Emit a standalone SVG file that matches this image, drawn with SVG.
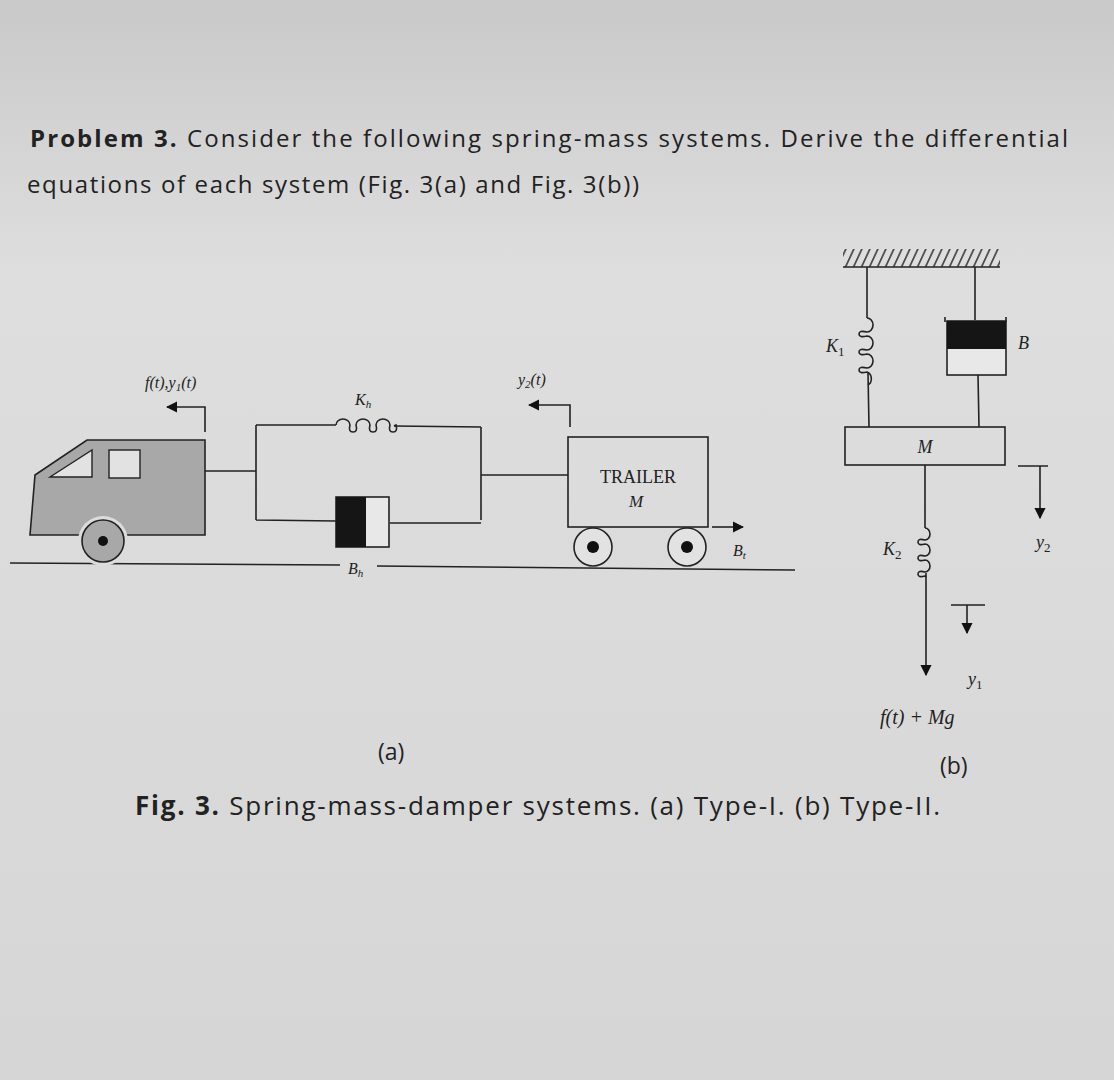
<svg xmlns="http://www.w3.org/2000/svg" width="1114" height="1080" viewBox="0 0 1114 1080">
<defs>
<linearGradient id="bg" x1="0" y1="0" x2="0" y2="1"><stop offset="0" stop-color="#c9c9c9"/><stop offset="0.25" stop-color="#dedede"/><stop offset="1" stop-color="#d6d6d6"/></linearGradient>
<pattern id="hatch" width="8" height="18" patternUnits="userSpaceOnUse" patternTransform="skewX(-25)"><line x1="2" y1="0" x2="2" y2="18" stroke="#222" stroke-width="1.5"/></pattern>
<marker id="ah" viewBox="0 0 10 10" refX="9" refY="5" markerWidth="7" markerHeight="7" orient="auto-start-reverse"><path d="M0,0 L10,5 L0,10 z" fill="#111"/></marker>
</defs>
<style>
.l{stroke:#222;stroke-width:1.6;fill:none}
.s{font-family:"Open Sans","Noto Sans",sans-serif;fill:#222}
.m{font-family:"Liberation Serif",serif;fill:#222;font-style:italic}
.r{font-family:"Liberation Serif",serif;fill:#222}
</style>
<rect width="1114" height="1080" fill="url(#bg)"/>
<g id="title">
<text class="s" x="30" y="147" font-size="24" textLength="1038" lengthAdjust="spacing"><tspan font-weight="bold">Problem 3.</tspan> Consider the following spring-mass systems. Derive the differential</text>
<text class="s" x="27" y="193" font-size="24" textLength="612" lengthAdjust="spacing">equations of each system (Fig. 3(a) and Fig. 3(b))</text>
</g>
<g id="ground"><path class="l" d="M10,563 L340,565 M377,566 L795,570"/><text class="m" x="348" y="574" font-size="16">B<tspan font-size="11" dy="3">h</tspan></text></g>
<g id="truck">
<path d="M35,475 L87,440 L205,440 L205,535 L30,535 Z" fill="#a8a8a8" stroke="#222" stroke-width="1.6"/>
<path d="M50,477 L92,450 L92,477 Z" fill="#e2e2e2" stroke="#222" stroke-width="1.4"/>
<rect x="109" y="450" width="31" height="28" fill="#e2e2e2" stroke="#222" stroke-width="1.4"/>
<circle cx="103" cy="541" r="25" fill="#dcdcdc"/>
<circle cx="103" cy="541" r="21" fill="#a8a8a8" stroke="#222" stroke-width="1.6"/>
<circle cx="103" cy="541" r="5" fill="#111"/>
<path class="l" d="M205,432 L205,407 L167,407" marker-end="url(#ah)"/>
<text class="m" x="145" y="388" font-size="16">f(t),y<tspan font-size="11" dy="3">1</tspan><tspan dy="-3">(t)</tspan></text>
</g>
<g id="hitch">
<path class="l" d="M205,471 L256,471 M256,425 L256,520 M256,425 L336,425 M394,426 L481,427 M481,427 L481,520 M256,520 L336,521 M390,523 L481,523 M481,475 L568,475"/>
<path class="l" d="M336,425 a7,6 0 0 1 14,0 q-2,7 3,7 q5,0 3,-7 a7,6 0 0 1 14,0 q-2,7 3,7 q5,0 3,-7 a7,6 0 0 1 14,0 q-2,7 3,7 q5,0 3,-7 L394,426"/>
<text class="m" x="355" y="405" font-size="16">K<tspan font-size="11" dy="3">h</tspan></text>
<rect x="336" y="497" width="53" height="50" fill="#e8e8e8" stroke="#222" stroke-width="1.6"/>
<rect x="336" y="497" width="30" height="50" fill="#151515"/>
</g>
<g id="trailer">
<rect x="568" y="437" width="140" height="90" fill="none" stroke="#222" stroke-width="1.6"/>
<text class="r" x="638" y="483" font-size="18" text-anchor="middle">TRAILER</text>
<text class="m" x="636" y="507" font-size="17" text-anchor="middle">M</text>
<circle cx="593" cy="547" r="19" fill="#e2e2e2" stroke="#222" stroke-width="1.6"/><circle cx="593" cy="547" r="6" fill="#111"/>
<circle cx="687" cy="547" r="19" fill="#e2e2e2" stroke="#222" stroke-width="1.6"/><circle cx="687" cy="547" r="6" fill="#111"/>
<path class="l" d="M570,427 L570,405 L529,405" marker-end="url(#ah)"/>
<text class="m" x="518" y="385" font-size="16">y<tspan font-size="11" dy="3">2</tspan><tspan dy="-3">(t)</tspan></text>
<path class="l" d="M712,527 L743,527" marker-end="url(#ah)"/>
<text class="m" x="733" y="556" font-size="16">B<tspan font-size="11" dy="3">t</tspan></text>
</g>
<g id="systemB">
<rect x="843" y="249" width="157" height="18" fill="url(#hatch)"/>
<path class="l" d="M843,267 L1000,267"/>
<path class="l" d="M867,267 L867,318 M868,373 L869,427 M975,267 L975,320 M978,375 L979,427"/>
<path class="l" d="M867,318 a6,7 0 0 1 0,14 q-8,-2 -8,2 q0,4 8,2 a6,7 0 0 1 0,14 q-8,-2 -8,2 q0,4 8,2 a6,7 0 0 1 0,14 q-8,-2 -8,2 q0,4 8,2 a6,7 0 0 1 1,13"/>
<text class="m" x="826" y="352" font-size="18">K<tspan font-size="13" dy="4" font-style="normal">1</tspan></text>
<path class="l" d="M945,317 L945,322 M1006,317 L1006,322"/>
<rect x="947" y="321" width="59" height="54" fill="#e8e8e8" stroke="#222" stroke-width="1.6"/>
<rect x="947" y="321" width="59" height="28" fill="#151515"/>
<text class="m" x="1018" y="349" font-size="18">B</text>
<rect x="845" y="427" width="160" height="38" fill="none" stroke="#222" stroke-width="1.6"/>
<text class="m" x="925" y="453" font-size="18" text-anchor="middle">M</text>
<path class="l" d="M925,465 L925,528 M926,573 L926,675" marker-end="url(#ah)"/>
<path class="l" d="M925,528 a5,6 0 0 1 0,12 q-7,-2 -7,2 q0,4 7,2 a5,6 0 0 1 0,12 q-7,-2 -7,2 q0,4 7,2 a5,6 0 0 1 0,12 q-7,-2 -7,2 q0,4 7,2 a5,5 0 0 1 1,1"/>
<text class="m" x="883" y="555" font-size="18">K<tspan font-size="13" dy="4" font-style="normal">2</tspan></text>
<path class="l" d="M951,605 L985,605 M967,605 L967,633" marker-end="url(#ah)"/>
<text class="m" x="968" y="685" font-size="18">y<tspan font-size="13" dy="4" font-style="normal">1</tspan></text>
<path class="l" d="M1018,466 L1048,466 M1040,466 L1040,518" marker-end="url(#ah)"/>
<text class="m" x="1036" y="548" font-size="18">y<tspan font-size="13" dy="4" font-style="normal">2</tspan></text>
<text class="m" x="880" y="724" font-size="20">f(t) + Mg</text>
</g>
<g id="captions">
<text class="s" x="378" y="760" font-size="23">(a)</text>
<text class="s" x="940" y="774" font-size="23">(b)</text>
<text class="s" x="135" y="815" font-size="26" textLength="805" lengthAdjust="spacing"><tspan font-weight="bold">Fig. 3.</tspan> Spring-mass-damper systems. (a) Type-I. (b) Type-II.</text>
</g>
</svg>
